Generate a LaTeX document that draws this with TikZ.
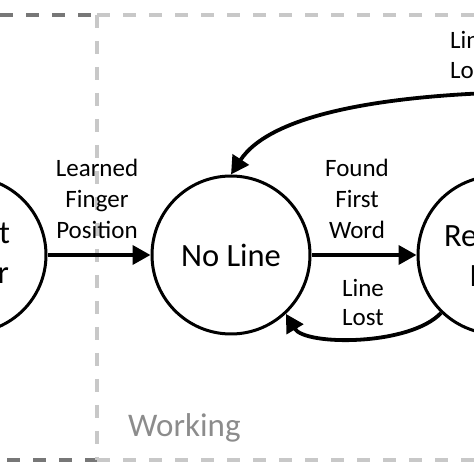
\documentclass[tikz,border=0pt]{standalone}
\usepackage{fontspec}
\setmainfont{Carlito}
\usetikzlibrary{arrows.meta}
\definecolor{darkdash}{HTML}{777777}
\definecolor{lightdash}{HTML}{C8C8C8}
\definecolor{worktext}{HTML}{8C8C8C}
\tikzset{
  statenode/.style={circle, draw=black, line width=3pt, minimum size=156pt, inner sep=0pt, align=center,
    font=\fontsize{32.5pt}{40pt}\selectfont},
  translabel/.style={align=center, anchor=base, inner sep=0pt, font=\fontsize{25pt}{31pt}\selectfont},
  arr/.style={line width=3.8pt, -{Triangle[length=18pt,width=19pt]}},
  framedash/.style={line width=3.5pt, dash pattern=on 13pt off 13pt},
}
\begin{document}
\begin{tikzpicture}[x=1pt,y=1pt]
\useasboundingbox (0,0) rectangle (474,474);
\clip (0,0) rectangle (474,474);
% frame
\draw[framedash, darkdash] (0,459) -- (97,459);
\draw[framedash, lightdash] (97,459) -- (480,459);
\draw[framedash, darkdash] (7,14) -- (97,14);
\draw[framedash, lightdash] (97,14) -- (480,14);
\draw[framedash, lightdash] (97,459) -- (97,14);
\node[anchor=base west, inner sep=0pt, text=worktext, font=\fontsize{33pt}{40pt}\selectfont] (working) at (128,37) {Working};
% states
\node[statenode] (adjust) at (-32,219) {Adjust\\Finger};
\node[statenode, minimum size=158pt] (noline) at (231,219) {No Line};
\node[statenode, minimum size=158pt] (reading) at (497,219) {Reading\\Line};
\coordinate (topstart) at (520,382);
% transitions
\draw[arr] (adjust.east) -- (noline.west);
\draw[arr] (noline.east) -- (reading.west);
\draw[arr] (reading.-134) .. controls (410,128) and (305,128) .. (noline.-47);
\draw[arr] (topstart) .. controls (380,379) and (270,359) .. (noline.north);
% labels
\node[translabel] (l1) at (97,235) {Learned\\Finger\\Position};
\node[translabel] (l2) at (357,235) {Found\\First\\Word};
\node[translabel, font=\fontsize{25pt}{29.5pt}\selectfont] (l3) at (363,148) {Line\\Lost};
\node[translabel, font=\fontsize{25pt}{30pt}\selectfont] (l4) at (471,395) {Line\\Lost};
\end{tikzpicture}
\end{document}
